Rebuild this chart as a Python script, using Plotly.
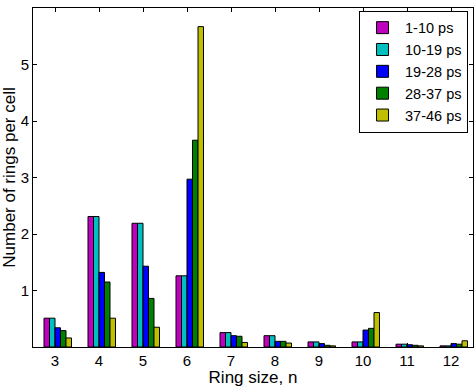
import plotly.graph_objects as go

ring_sizes = [3, 4, 5, 6, 7, 8, 9, 10, 11, 12]
series_names = ["1-10 ps", "10-19 ps", "19-28 ps", "28-37 ps", "37-46 ps"]
s1 = [0.51, 2.31, 2.19, 1.26, 0.255, 0.20, 0.09, 0.09, 0.05, 0.02]
s2 = [0.51, 2.31, 2.19, 1.26, 0.255, 0.20, 0.09, 0.09, 0.05, 0.02]
s3 = [0.34, 1.32, 1.43, 2.97, 0.20, 0.10, 0.06, 0.30, 0.04, 0.06]
s4 = [0.29, 1.15, 0.86, 3.66, 0.19, 0.10, 0.03, 0.33, 0.03, 0.05]
s5 = [0.16, 0.51, 0.35, 5.67, 0.08, 0.07, 0.02, 0.61, 0.02, 0.11]
colors = ["#BF00BF", "#00BFBF", "#0000FF", "#008000", "#BFBF00"]

fig = go.Figure()
bw = 0.125
for i, (name, vals, col) in enumerate(zip(series_names, [s1, s2, s3, s4, s5], colors)):
    fig.add_trace(go.Bar(
        x=ring_sizes, y=vals, name=name,
        marker=dict(color=col, line=dict(color="black", width=1)),
        width=bw, offset=-0.25 + i * bw,
    ))

fig.update_layout(
    width=474, height=387,
    barmode="overlay",
    plot_bgcolor="white", paper_bgcolor="white",
    margin=dict(l=33, r=1, t=8, b=40),
    font=dict(family="Liberation Sans, Arial, sans-serif", size=15, color="black"),
    showlegend=True,
    legend=dict(x=0.741, y=0.992, xanchor="left", yanchor="top",
                bgcolor="white", bordercolor="black", borderwidth=1,
                font=dict(size=14.5), tracegroupgap=0, itemwidth=35),
)
fig.update_xaxes(range=[2.5, 12.5], tickmode="array", tickvals=ring_sizes,
                 ticktext=[str(v) for v in ring_sizes],
                 showline=True, linecolor="black", linewidth=1, mirror="ticks",
                 ticks="inside", ticklen=4, tickcolor="black",
                 showgrid=False, zeroline=False,
                 title=dict(text="Ring size, n", font=dict(size=17), standoff=3))
fig.update_yaxes(range=[0, 6], tickmode="array", tickvals=[1, 2, 3, 4, 5, 6],
                 showline=True, linecolor="black", linewidth=1, mirror="ticks",
                 ticks="inside", ticklen=4, tickcolor="black",
                 showgrid=False, zeroline=False,
                 title=dict(text="Number of rings per cell", font=dict(size=17), standoff=2))

fig.write_html("out.html", config={"displayModeBar": False},
               post_script="document.body.style.margin='0';document.body.style.overflow='hidden';")
